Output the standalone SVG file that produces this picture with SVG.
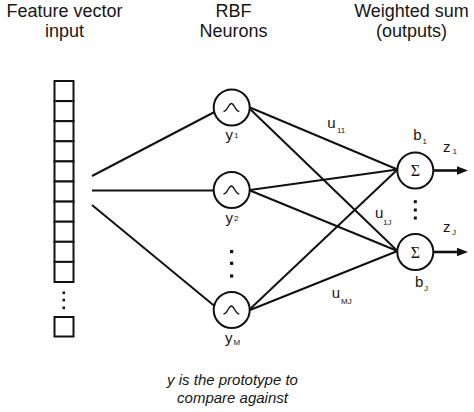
<svg xmlns="http://www.w3.org/2000/svg" width="474" height="412" viewBox="0 0 474 412">
<style>
text{font-family:"Liberation Sans",Arial,sans-serif;fill:#161616}
.hdr{font-size:18px;text-anchor:middle}
.lbl{font-size:15px}
.sub{font-size:8px}
.note{font-size:15px;font-style:italic;text-anchor:middle}
.sig{font-family:"Liberation Serif","Times New Roman",serif;font-size:16px;text-anchor:middle}
.cell{fill:#fff;stroke:#111;stroke-width:2}
.node{fill:#fff;stroke:#111;stroke-width:2}
.edge{stroke:#111;stroke-width:2;fill:none}
.bump{stroke:#111;stroke-width:1.4;fill:none}
.out{stroke:#111;stroke-width:2.6}
.dot{fill:#111}
</style>
<rect width="474" height="412" fill="#fff"/>
<g id="headers">
<text class="hdr" x="64.5" y="16.5">Feature vector</text>
<text class="hdr" x="64.5" y="37">input</text>
<text class="hdr" x="233.5" y="16.5">RBF</text>
<text class="hdr" x="233.5" y="37">Neurons</text>
<text class="hdr" x="411.5" y="16.5">Weighted sum</text>
<text class="hdr" x="411.5" y="37">(outputs)</text>
</g>
<g id="connectors">
<line class="edge" x1="92" y1="176" x2="214.5" y2="112"/>
<line class="edge" x1="92" y1="190.5" x2="213.7" y2="190.5"/>
<line class="edge" x1="92" y1="205" x2="214.5" y2="306"/>
<line class="edge" x1="250" y1="107.5" x2="397.5" y2="169.5"/>
<line class="edge" x1="250" y1="109" x2="397.5" y2="251"/>
<line class="edge" x1="250" y1="190" x2="397.5" y2="169.5"/>
<line class="edge" x1="250" y1="190.5" x2="397.5" y2="251"/>
<line class="edge" x1="250" y1="309" x2="397.5" y2="169.5"/>
<line class="edge" x1="250" y1="310" x2="397.5" y2="251"/>
<line class="out" x1="433" y1="170.5" x2="460" y2="170.5"/>
<polygon class="dot" points="468,170.5 457,166.3 457,174.7"/>
<line class="out" x1="433" y1="252" x2="460" y2="252"/>
<polygon class="dot" points="468,252 457,247.8 457,256.2"/>
</g>
<g id="input">
<rect class="cell" x="54.5" y="81" width="19" height="20.1"/>
<rect class="cell" x="54.5" y="101.1" width="19" height="20.1"/>
<rect class="cell" x="54.5" y="121.2" width="19" height="20.1"/>
<rect class="cell" x="54.5" y="141.3" width="19" height="20.1"/>
<rect class="cell" x="54.5" y="161.4" width="19" height="20.1"/>
<rect class="cell" x="54.5" y="181.5" width="19" height="20.1"/>
<rect class="cell" x="54.5" y="201.6" width="19" height="20.1"/>
<rect class="cell" x="54.5" y="221.7" width="19" height="20.1"/>
<rect class="cell" x="54.5" y="241.8" width="19" height="20.1"/>
<rect class="cell" x="54.5" y="261.9" width="19" height="20.1"/>
<rect class="dot" x="62.5" y="291.5" width="2.6" height="2.6"/>
<rect class="dot" x="62.5" y="298.8" width="2.6" height="2.6"/>
<rect class="dot" x="62.5" y="306.5" width="2.6" height="2.6"/>
<rect class="cell" x="54.5" y="317" width="19" height="19.5"/>
</g>
<g id="rbf1">
<circle class="node" cx="231.7" cy="107.5" r="18"/>
<path class="bump" d="M223.5,111.5 C227.5,111.5 228.5,103.5 231.4,103.5 C234.3,103.5 235.3,111.5 239.3,111.5"/>
<text class="lbl" x="225.5" y="140">y<tspan class="sub" x="234" y="138">1</tspan></text>
</g>
<g id="rbf2">
<circle class="node" cx="231.7" cy="190" r="18"/>
<path class="bump" d="M223.5,194 C227.5,194 228.5,186 231.4,186 C234.3,186 235.3,194 239.3,194"/>
<text class="lbl" x="225.5" y="223">y<tspan class="sub" x="234" y="221">2</tspan></text>
</g>
<g id="rbf-dots">
<rect class="dot" x="230" y="250" width="3.2" height="3.2"/>
<rect class="dot" x="230" y="261.7" width="3.2" height="3.2"/>
<rect class="dot" x="230" y="274.4" width="3.2" height="3.2"/>
</g>
<g id="rbfM">
<circle class="node" cx="231.7" cy="310" r="18"/>
<path class="bump" d="M223.5,314 C227.5,314 228.5,306 231.4,306 C234.3,306 235.3,314 239.3,314"/>
<text class="lbl" x="225" y="343">y<tspan class="sub" x="233.5" y="345">M</tspan></text>
</g>
<g id="sum1">
<circle class="node" cx="415.3" cy="170.5" r="18"/>
<text class="sig" x="415.3" y="176.2">Σ</text>
<text class="lbl" x="413.3" y="140">b<tspan class="sub" x="422.5" y="144">1</tspan></text>
<text class="lbl" x="443" y="151.7">z<tspan class="sub" x="452.5" y="154">1</tspan></text>
</g>
<g id="sum-dots">
<rect class="dot" x="413.8" y="200.2" width="3" height="3"/>
<rect class="dot" x="413.8" y="208.5" width="3" height="3"/>
<rect class="dot" x="413.8" y="216.5" width="3" height="3"/>
</g>
<g id="sumJ">
<circle class="node" cx="415.3" cy="252" r="18"/>
<text class="sig" x="415.3" y="257.7">Σ</text>
<text class="lbl" x="415" y="286.7">b<tspan class="sub" x="424" y="291">J</tspan></text>
<text class="lbl" x="443" y="231.7">z<tspan class="sub" x="452" y="235">J</tspan></text>
</g>
<g id="weights">
<text class="lbl" x="327.3" y="128.3">u<tspan class="sub" x="337" y="133">11</tspan></text>
<text class="lbl" x="375" y="218.3">u<tspan class="sub" x="383" y="225">1J</tspan></text>
<text class="lbl" x="331.7" y="298.3">u<tspan class="sub" x="341" y="304">MJ</tspan></text>
</g>
<g id="note">
<text class="note" x="232.5" y="385">y is the prototype to</text>
<text class="note" x="232.5" y="403">compare against</text>
</g>
</svg>
